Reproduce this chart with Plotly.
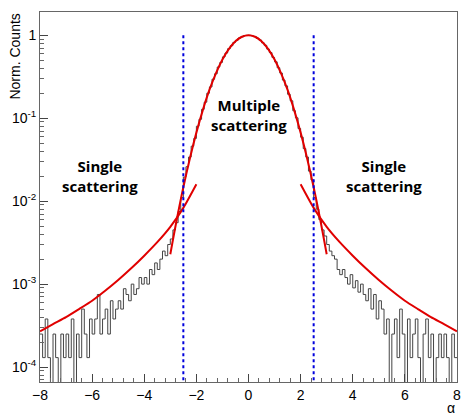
import math
import plotly.graph_objects as go

# histogram: tails in units of 1e-4, bins 0.1 wide
left_tail = [2.5,1.3,3.8,1.3,0,2.5,1.3,0,2.5,1.3,
             2.5,1.3,3.8,0,2.5,1.3,5,2.5,1.3,3.8,
             2.5,3.8,7.5,2.5,3.8,5,2.5,6.3,3.8,5,
             6.3,5,8.8,7.5,6.3,10,7.5,8.8,12,10,
             12,10,15,13,18,15,20,25,22,30,
             35,45,55,75,110]
core_half = [0.0195,0.026,0.034,0.046,0.057,0.080,0.097,0.128,0.156,0.200,
             0.238,0.295,0.343,0.414,0.470,0.548,0.610,0.688,0.748,0.820,
             0.868,0.924,0.955,0.990,0.996]
core_right = [0.997,0.982,0.962,0.917,0.875,0.811,0.756,0.680,0.618,0.540,
              0.478,0.405,0.350,0.288,0.245,0.194,0.162,0.123,0.101,0.075,
              0.059,0.043,0.034,0.023,0.018]
right_tail = [110,80,60,45,38,30,25,22,20,15,
              13,15,12,10,13,9,11,8,10,7.5,
              6.3,8.8,5,7.5,3.8,6.3,5,2.5,3.8,0,
              2.5,3.8,1.3,5,2.5,0,3.8,1.3,2.5,3.8,
              1.3,0,2.5,3.8,1.3,2.5,0,1.3,2.5,1.3,
              2.5,1.3,0,2.5,1.3]

gauss_x = [-3,-2.75,-2.5,-2.25,-2,-1.75,-1.5,-1.25,-1,-0.75,-0.5,-0.25,0,
           0.25,0.5,0.75,1,1.25,1.5,1.75,2,2.25,2.5,2.75,3]
gauss_y = [0.00229,0.00604,0.0147,0.0327,0.067,0.126,0.219,0.347,0.509,0.684,0.845,0.959,1.0,
           0.959,0.845,0.684,0.509,0.347,0.219,0.126,0.067,0.0327,0.0147,0.00604,0.00229]
tail_x = [-8,-7.5,-7,-6.5,-6,-5.5,-5,-4.5,-4,-3.5,-3,-2.5,-2]
tail_y = [2.7e-4,3.3e-4,4.0e-4,5.0e-4,6.3e-4,8.3e-4,1.12e-3,1.55e-3,2.2e-3,3.2e-3,4.9e-3,8.3e-3,1.6e-2]

vals = [v*1e-4 for v in left_tail] + core_half + core_right + [v*1e-4 for v in right_tail]
vals = [v if v > 0 else 1e-6 for v in vals]
edges = [round(-8 + 0.1*i, 2) for i in range(len(vals)+1)]
hy = vals + [vals[-1]]

fig = go.Figure()
fig.add_trace(go.Scatter(x=edges, y=hy, mode="lines", line=dict(shape="hv", color="#444", width=1)))
fig.add_trace(go.Scatter(x=gauss_x, y=gauss_y, mode="lines", line=dict(color="#e00000", width=2, shape="spline")))
fig.add_trace(go.Scatter(x=tail_x, y=tail_y, mode="lines", line=dict(color="#e00000", width=2, shape="spline", smoothing=0.6)))
fig.add_trace(go.Scatter(x=[-v for v in tail_x[::-1]], y=tail_y[::-1], mode="lines", line=dict(color="#e00000", width=2, shape="spline", smoothing=0.6)))
for xv in (-2.5, 2.5):
    fig.add_trace(go.Scatter(x=[xv, xv], y=[1.0, 6.6e-5], mode="lines", line=dict(color="#0000dd", width=2, dash="dot")))

tf = dict(family="Open Sans", size=15, color="black")
for x, y, t in [(-5.7, 0.02, "<b>Single<br>scattering</b>"), (5.2, 0.02, "<b>Single<br>scattering</b>"),
                (0, 0.11, "<b>Multiple<br>scattering</b>")]:
    fig.add_annotation(x=x, y=math.log10(y), text=t, showarrow=False, font=tf)

minor_vals = [m * 10**e for e in range(-5, 1) for m in range(2, 10)]
fig.update_layout(
    width=474, height=418, margin=dict(l=32, r=25, t=4, b=44, autoexpand=False),
    paper_bgcolor="white", plot_bgcolor="white", showlegend=False,
    font=dict(family="Liberation Sans", size=14, color="black"),
    xaxis=dict(range=[-8, 8], dtick=2, ticks="inside", ticklen=8, showgrid=False, zeroline=False,
               showline=True, linecolor="#666", mirror=True, automargin=False,
               minor=dict(dtick=0.4, ticks="inside", ticklen=4, tickcolor="#666")),
    yaxis=dict(type="log", range=[-4.18, 0.28], showgrid=False, zeroline=False, automargin=False,
               tickvals=[1e-4,1e-3,1e-2,1e-1,1], ticktext=["10<sup>-4</sup>","10<sup>-3</sup>","10<sup>-2</sup>","10<sup>-1</sup>","1"],
               ticks="inside", ticklen=8, showline=True, linecolor="#666", mirror=True,
               minor=dict(tickvals=minor_vals, ticks="inside", ticklen=4, tickcolor="#666", showgrid=False)),
)
fig.add_annotation(x=1, y=-0.07, xref="paper", yref="paper", text="α", showarrow=False, xanchor="right", yanchor="middle", font=dict(size=14))
fig.add_annotation(x=-0.085, y=1, xref="paper", yref="paper", text="Norm. Counts", showarrow=False, textangle=-90, xanchor="left", yanchor="top", font=dict(size=14))
fig.write_html("out.html")
